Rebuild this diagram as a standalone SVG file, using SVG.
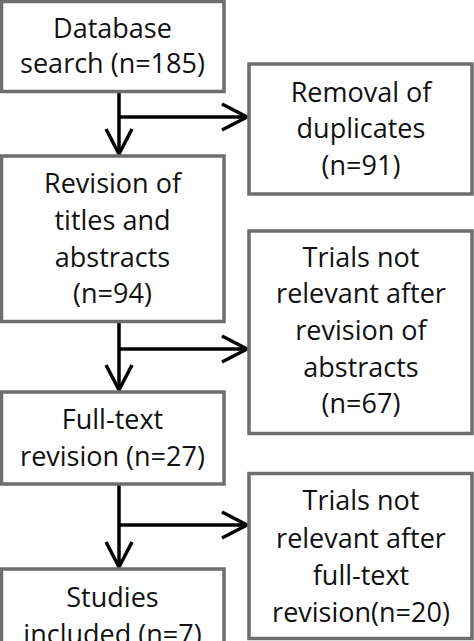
<svg xmlns="http://www.w3.org/2000/svg" width="474" height="641" viewBox="0 0 474 641">
<style>
.box{fill:#fff;stroke:#6e6e6e;stroke-width:3.5}
.t{font-family:"Open Sans","Liberation Sans",sans-serif;font-size:27px;fill:#111;text-anchor:middle}
.c{fill:none;stroke:#000;stroke-width:3.5;marker-end:url(#ah)}
</style>
<defs>
<marker id="ah" markerUnits="userSpaceOnUse" viewBox="-30 -16 34 32" refX="0" refY="0" markerWidth="34" markerHeight="32" orient="auto" overflow="visible">
<path d="M-25,-13 L0,0 L-25,13" fill="none" stroke="#000" stroke-width="3.5"/>
</marker>
</defs>
<rect width="474" height="641" fill="#fff"/>
<g id="connectors">
<path class="c" d="M119,92 V154"/>
<path class="c" d="M119,117 H247"/>
<path class="c" d="M119,322 V390"/>
<path class="c" d="M119,349 H247"/>
<path class="c" d="M119,484 V567"/>
<path class="c" d="M119,525 H247"/>
</g>
<g id="n1"><rect class="box" x="1.5" y="1.5" width="222.5" height="90"/>
<text class="t" x="112.5" y="38">Database</text><text class="t" x="112.5" y="73">search (n=185)</text></g>
<g id="n2"><rect class="box" x="249" y="64" width="223" height="130"/>
<text class="t" x="361" y="102">Removal of</text><text class="t" x="361" y="138">duplicates</text><text class="t" x="361" y="175">(n=91)</text></g>
<g id="n3"><rect class="box" x="1.5" y="156" width="222.5" height="165.5"/>
<text class="t" x="112.5" y="193">Revision of</text><text class="t" x="112.5" y="230">titles and</text><text class="t" x="112.5" y="267">abstracts</text><text class="t" x="112.5" y="303">(n=94)</text></g>
<g id="n4"><rect class="box" x="249" y="231" width="223" height="202.5"/>
<text class="t" x="361" y="267">Trials not</text><text class="t" x="361" y="303">relevant after</text><text class="t" x="361" y="340">revision of</text><text class="t" x="361" y="377">abstracts</text><text class="t" x="361" y="413">(n=67)</text></g>
<g id="n5"><rect class="box" x="1.5" y="392" width="222.5" height="92"/>
<text class="t" x="112.5" y="429">Full-text</text><text class="t" x="112.5" y="466">revision (n=27)</text></g>
<g id="n6"><rect class="box" x="249" y="473.5" width="223" height="165"/>
<text class="t" x="361" y="510">Trials not</text><text class="t" x="361" y="548">relevant after</text><text class="t" x="361" y="585">full-text</text><text class="t" x="361" y="622">revision(n=20)</text></g>
<g id="n7"><rect class="box" x="1.5" y="569" width="222.5" height="100"/>
<text class="t" x="112.5" y="607">Studies</text><text class="t" x="112.5" y="644">included (n=7)</text></g>
</svg>
